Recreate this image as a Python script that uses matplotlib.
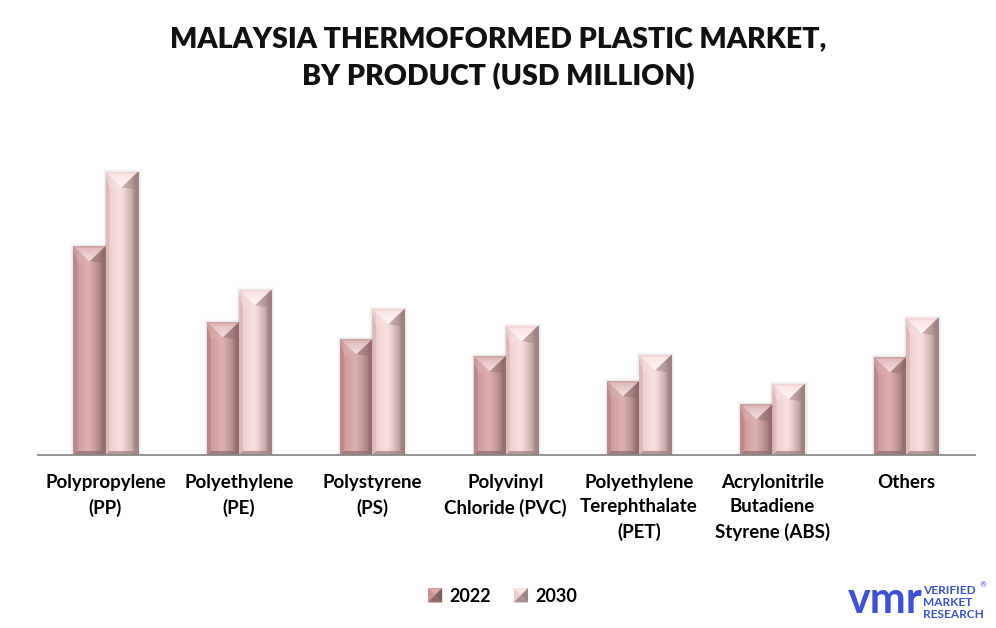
import numpy as np
import matplotlib
matplotlib.use("Agg")
import matplotlib.pyplot as plt
from matplotlib.patches import Polygon, Rectangle, Patch
from matplotlib.legend_handler import HandlerPatch
import matplotlib.colors as mcolors

plt.rcParams['font.family'] = ['Lato', 'DejaVu Sans']

categories = ["Polypropylene\n(PP)", "Polyethylene\n(PE)", "Polystyrene\n(PS)",
              "Polyvinyl\nChloride (PVC)", "Polyethylene\nTerephthalate\n(PET)",
              "Acrylonitrile\nButadiene\nStyrene (ABS)", "Others"]
series_names = ["2022", "2030"]
values_2022 = [209, 133, 116, 99, 74, 51, 98]
values_2030 = [283, 165, 146, 129, 100, 71, 137]
title_lines = ["MALAYSIA THERMOFORMED PLASTIC MARKET,", "BY PRODUCT (USD MILLION)"]

pal = {
    "2022": dict(base="#c99394", light="#ddb0b0", dark="#8e6869", top="#f4e2e2", edge="#a87778"),
    "2030": dict(base="#eecbcb", light="#f8dfdf", dark="#9e7d7d", top="#fff7f7", edge="#c9a5a5"),
}

W, H = 996, 628
fig = plt.figure(figsize=(W / 100, H / 100), dpi=100)
ax = fig.add_axes([38 / W, 173 / H, 937 / W, 300 / H])
ax.set_xlim(-0.506, 6.518)
ax.set_ylim(0, 300)

x = np.arange(len(categories))
bw = 0.24
bars_a = ax.bar(x - bw / 2, values_2022, bw, color="none", edgecolor="none", zorder=2)
bars_b = ax.bar(x + bw / 2, values_2030, bw, color="none", edgecolor="none", zorder=2)

px_x = (ax.get_xlim()[1] - ax.get_xlim()[0]) / 937.0
px_y = (ax.get_ylim()[1] - ax.get_ylim()[0]) / 300.0


def rgb(c):
    return np.array(mcolors.to_rgb(c))


def draw_bevel_bar(rect, p):
    x0, w, h = rect.get_x(), rect.get_width(), rect.get_height()
    x1 = x0 + w
    xc = x0 + w / 2
    for i, a in enumerate([0.06, 0.04, 0.025]):
        ax.add_patch(Rectangle((x0 - (i + 1) * px_x, 0), w + (2 * i + 3) * px_x,
                               h + (i + 1) * px_y, facecolor="#606060", alpha=a,
                               edgecolor="none", zorder=1))
    n = 64
    t = np.linspace(0, 1, n)
    base, light, dark = rgb(p["base"]), rgb(p["light"]), rgb(p["dark"])
    cols = np.zeros((n, 3))
    for i, tt in enumerate(t):
        if tt < 0.45:
            f = tt / 0.45
            cols[i] = base * (1 - f) + light * f
        else:
            f = ((tt - 0.45) / 0.55) ** 1.3
            cols[i] = light * (1 - f) + dark * f
    im = ax.imshow(cols[np.newaxis, :, :], extent=(x0, x1, 0, h), aspect="auto", zorder=3,
                   interpolation="bicubic")
    clip = Rectangle((x0, 0), w, h, transform=ax.transData, facecolor="none", edgecolor="none")
    ax.add_patch(clip)
    im.set_clip_path(clip)
    b = 4
    bx, by = b * px_x, b * px_y
    ax.add_patch(Polygon([(x0, 0), (x1, 0), (x1 - bx, by), (x0 + bx, by)],
                         closed=True, facecolor=p["dark"], alpha=0.7, edgecolor="none", zorder=4))
    ax.add_patch(Polygon([(x0, 0), (x0 + bx, by), (x0 + bx, h - by), (x0, h)],
                         closed=True, facecolor=p["edge"], alpha=0.45, edgecolor="none", zorder=4))
    ax.add_patch(Polygon([(x1, 0), (x1 - bx, by), (x1 - bx, h - by), (x1, h)],
                         closed=True, facecolor=p["dark"], alpha=0.55, edgecolor="none", zorder=4))
    d = min((w / 2) / px_x * 0.95, h / px_y * 0.45) * px_y
    ax.add_patch(Polygon([(x0, h), (xc, h - d), (x0 + bx, h - d - by * 0.5), (x0, h - by)],
                         closed=True, facecolor=p["light"], alpha=0.5, edgecolor="none", zorder=4))
    ax.add_patch(Polygon([(x1, h), (xc, h - d), (x1 - bx, h - d - by * 0.5), (x1, h - by)],
                         closed=True, facecolor=p["dark"], alpha=0.45, edgecolor="none", zorder=4))
    m = 32
    top = rgb(p["top"])
    c2 = np.zeros((m, 1, 3))
    for i in range(m):
        f = i / (m - 1)
        c2[i, 0] = rgb(p["light"]) * (1 - f) + top * f
    im2 = ax.imshow(c2, extent=(x0, x1, h - d, h), aspect="auto", zorder=5,
                    interpolation="bicubic")
    tri = Polygon([(x0, h), (x1, h), (xc, h - d)], closed=True, transform=ax.transData,
                  facecolor="none", edgecolor="none")
    ax.add_patch(tri)
    im2.set_clip_path(tri)
    ax.add_patch(Polygon([(x0, h), (x1, h), (x1 - bx * 0.4, h - by * 0.4), (x0 + bx * 0.4, h - by * 0.4)],
                         closed=True, facecolor=p["base"], alpha=0.6, edgecolor="none", zorder=6))


for r in bars_a:
    draw_bevel_bar(r, pal["2022"])
for r in bars_b:
    draw_bevel_bar(r, pal["2030"])

for s in ["top", "left", "right"]:
    ax.spines[s].set_visible(False)
ax.spines["bottom"].set_color("#8a8a8a")
ax.spines["bottom"].set_linewidth(1.3)
ax.spines["bottom"].set_zorder(7)
ax.set_yticks([])
ax.set_xticks(x)
ax.set_xticklabels(categories, fontsize=13.5, fontweight="bold", linespacing=1.5)
ax.tick_params(axis="x", length=0, pad=14)

for i, line in enumerate(title_lines):
    fig.text(0.5, 1 - (47 + i * 38) / H, line, ha="center", va="baseline",
             fontsize=20.5, fontweight="heavy", color="#111111")


class BevelHandler(HandlerPatch):
    def create_artists(self, legend, orig_handle, xdescent, ydescent, width, height, fontsize, trans):
        s = min(width, height)
        x0 = -xdescent + width - s
        y0 = -ydescent + (height - s) / 2
        base = np.array(orig_handle.get_facecolor()[:3])
        dark = base * 0.65
        light = np.clip(base * 1.12, 0, 1)
        cx, cy = x0 + s / 2, y0 + s / 2
        return [
            Rectangle((x0, y0), s, s, facecolor=base, edgecolor="none", transform=trans),
            Polygon([(x0, y0 + s), (x0 + s, y0 + s), (cx, cy)], closed=True,
                    facecolor=light, edgecolor="none", transform=trans),
            Polygon([(x0 + s, y0), (x0 + s, y0 + s), (cx, cy)], closed=True,
                    facecolor=dark, edgecolor="none", transform=trans),
            Polygon([(x0, y0), (x0 + s, y0), (cx, cy)], closed=True,
                    facecolor=np.clip(dark * 1.1, 0, 1), edgecolor="none", transform=trans),
        ]


handles = [Patch(facecolor=pal["2022"]["base"]), Patch(facecolor=pal["2030"]["base"])]
fig.legend(handles, series_names, loc="center", bbox_to_anchor=(502 / W, 1 - 596 / H),
           ncol=2, frameon=False, prop=dict(size=13, weight="bold"),
           handler_map={Patch: BevelHandler()}, handlelength=0.85, handleheight=0.85,
           handletextpad=0.4, columnspacing=1.2)

blue = "#3d50d6"
fig.text(885 / W, 1 - 600 / H, "vmr", ha="center", va="center", fontsize=31,
         fontweight="bold", color=blue)
for i, word in enumerate(["VERIFIED", "MARKET", "RESEARCH"]):
    fig.text(923 / W, 1 - (590 + i * 12) / H, word, ha="left", va="center",
             fontsize=8.6, fontweight="bold", color=blue)
fig.text(983 / W, 1 - 585 / H, "®", ha="center", va="center", fontsize=6, color=blue)

fig.savefig("out.png", dpi=100, facecolor="white")
